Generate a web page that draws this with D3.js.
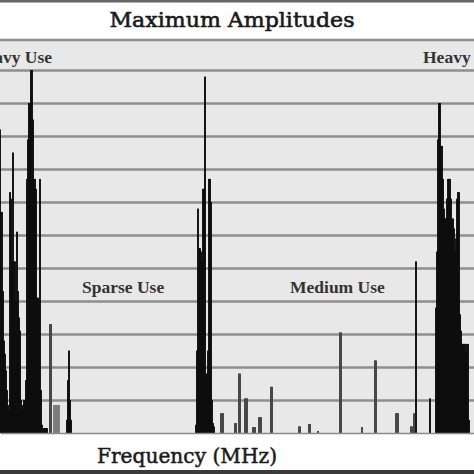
<!DOCTYPE html>
<html><head><meta charset="utf-8">
<script src="https://cdn.jsdelivr.net/npm/d3@7"></script>
<style>html,body{margin:0;padding:0;background:#fff;}svg{display:block}</style>
</head><body><svg id="c" width="474" height="474"></svg>
<script>
const title = "Maximum Amplitudes";
const xTitle = "Frequency (MHz)";
const bandLabels = ["Heavy Use", "Sparse Use", "Medium Use", "Heavy Use"];
const bandLabelFreq = [52, 82, 290, 423];
const bandLabelAmp = [11.2, 4.25, 4.25, 11.2];
const bandLabelAnchor = ["end", "start", "start", "start"];
const gridTicks = [1, 2, 3, 4, 5, 6, 7, 8, 9, 10, 11];

const darkFreq = [0,1,2,3,4,5,6,7,8,9,10,11,12,13,14,15,16,17,18,19,20,21,22,23,24,25,26,27,28,29,30,31,32,33,34,35,36,37,38,39,40,41,42,43,44,45,46,47,
  67,68,69,70,71,
  196,197,198,199,200,201,202,203,204,205,206,207,208,209,210,211,212,213,214,
  416,430,
  436,437,438,439,440,441,442,443,444,445,446,447,448,449,450,451,452,453,454,455,456,457,458,459,460,461,462,463,464,465,466,467,468,469];
const darkAmp = [9.2,6.7,6.7,4.3,2.8,2.4,1.9,1.3,0.85,0.7,7.3,7.1,5.2,8.5,5.2,5.2,4.0,6.1,4.3,3.5,3.1,1.0,0.7,0.85,1.0,1.0,1.6,7.7,8.9,10.0,10.0,11.0,11.0,9.5,7.7,7.7,7.4,4.1,4.1,4.0,7.7,1.3,0.25,0.15,0.15,0.15,0.15,0.15,
  0.4,1.6,2.5,1.0,0.4,
  0.25,2.5,6.8,5.6,5.6,5.5,5.2,7.4,7.4,10.8,1.8,1.8,2.5,7.7,7.7,7.0,1.0,0.3,0.2,
  5.2,1.05,
  3.8,5.5,8.9,10.0,10.0,8.7,8.7,7.7,6.8,6.5,6.5,7.1,7.7,7.7,7.7,7.1,6.5,6.5,6.2,5.5,5.9,7.1,7.3,7.3,3.6,3.1,2.7,2.7,2.7,2.7,2.5,2.7,2.7,0.4];

const midFreq = [50,51,221,222,223,235,236,239,240,245,246,247,253,254,255,259,260,261,271,272,299,300,309,310,318,340,341,362,375,376,396,397,398,411,412,414];
const midAmp = [3.3,3.3,0.6,0.6,0.6,0.3,0.3,1.8,1.8,1.05,1.05,1.05,0.18,0.18,0.18,0.48,0.48,0.48,1.4,1.4,0.2,0.2,0.27,0.27,0.06,3.05,3.05,0.18,2.2,2.2,0.6,0.6,0.6,0.2,0.2,0.6];

const lightFreq = [54,55,56,57,58,59];
const lightAmp = [0.85,0.85,0.85,0.85,0.85,0.85];

const W = 474, H = 474;
const svg = d3.select("#c");
const x = d3.scaleLinear().domain([0, 474]).range([0, 474]);
const y = d3.scaleLinear().domain([0, 12]).range([433, 37]);
const plotTop = 40, plotBottom = y(0);

svg.append("rect").attr("x",0).attr("y",0).attr("width",W).attr("height",H).attr("fill","#fff");
svg.append("rect").attr("x",0).attr("y",0).attr("width",W).attr("height",2.5).attr("fill","#666");
svg.append("rect").attr("x",0).attr("y",plotTop).attr("width",W).attr("height",plotBottom-plotTop).attr("fill","#e8e8e8");

const gAxis = svg.append("g").attr("transform","translate(474,0)")
  .call(d3.axisLeft(y).tickValues(gridTicks).tickSize(474).tickFormat(""));
gAxis.select(".domain").remove();
gAxis.selectAll(".tick line").attr("stroke","#8e8e8e").attr("stroke-width",2.6);
svg.append("line").attr("x1",0).attr("x2",W).attr("y1",plotTop).attr("y2",plotTop).attr("stroke","#8e8e8e").attr("stroke-width",2.6);

function bars(freqs, amps, color, w) {
  svg.append("g").selectAll("rect").data(freqs.map((f,i)=>({f, a: amps[i]}))).join("rect")
    .attr("x", d => x(d.f) - w/2).attr("width", w)
    .attr("y", d => y(d.a)).attr("height", d => plotBottom - y(d.a))
    .attr("fill", color);
}
bars(lightFreq, lightAmp, "#7a7a7a", 1.8);
bars(midFreq, midAmp, "#474747", 2.0);
bars(darkFreq, darkAmp, "#0d0d0d", 1.9);

const gx = svg.append("g").attr("transform",`translate(0,${plotBottom})`)
  .call(d3.axisBottom(x).tickValues([]).tickSizeOuter(0));
gx.select(".domain").attr("stroke","#8a8a8a").attr("stroke-width",1.5);

svg.append("rect").attr("x",0).attr("y",470).attr("width",W).attr("height",4).attr("fill","#3a3a3a");

svg.append("text").attr("x",232).attr("y",27).attr("text-anchor","middle")
  .attr("font-family","DejaVu Serif").attr("font-size",21).attr("fill","#1a1a1a")
  .attr("stroke","#1a1a1a").attr("stroke-width",0.6)
  .attr("textLength",245).attr("lengthAdjust","spacingAndGlyphs").text(title);
svg.append("text").attr("x",187).attr("y",463).attr("text-anchor","middle")
  .attr("font-family","DejaVu Serif").attr("font-size",20).attr("fill","#1a1a1a")
  .attr("stroke","#1a1a1a").attr("stroke-width",0.5)
  .attr("textLength",180).attr("lengthAdjust","spacingAndGlyphs").text(xTitle);

svg.append("g").selectAll("text").data(bandLabels).join("text")
  .attr("x",(d,i)=>x(bandLabelFreq[i])).attr("y",(d,i)=>y(bandLabelAmp[i]))
  .attr("text-anchor",(d,i)=>bandLabelAnchor[i])
  .attr("font-family","Liberation Serif").attr("font-weight","bold").attr("font-size",17.5)
  .attr("fill","#333").text(d=>d);
</script></body></html>
